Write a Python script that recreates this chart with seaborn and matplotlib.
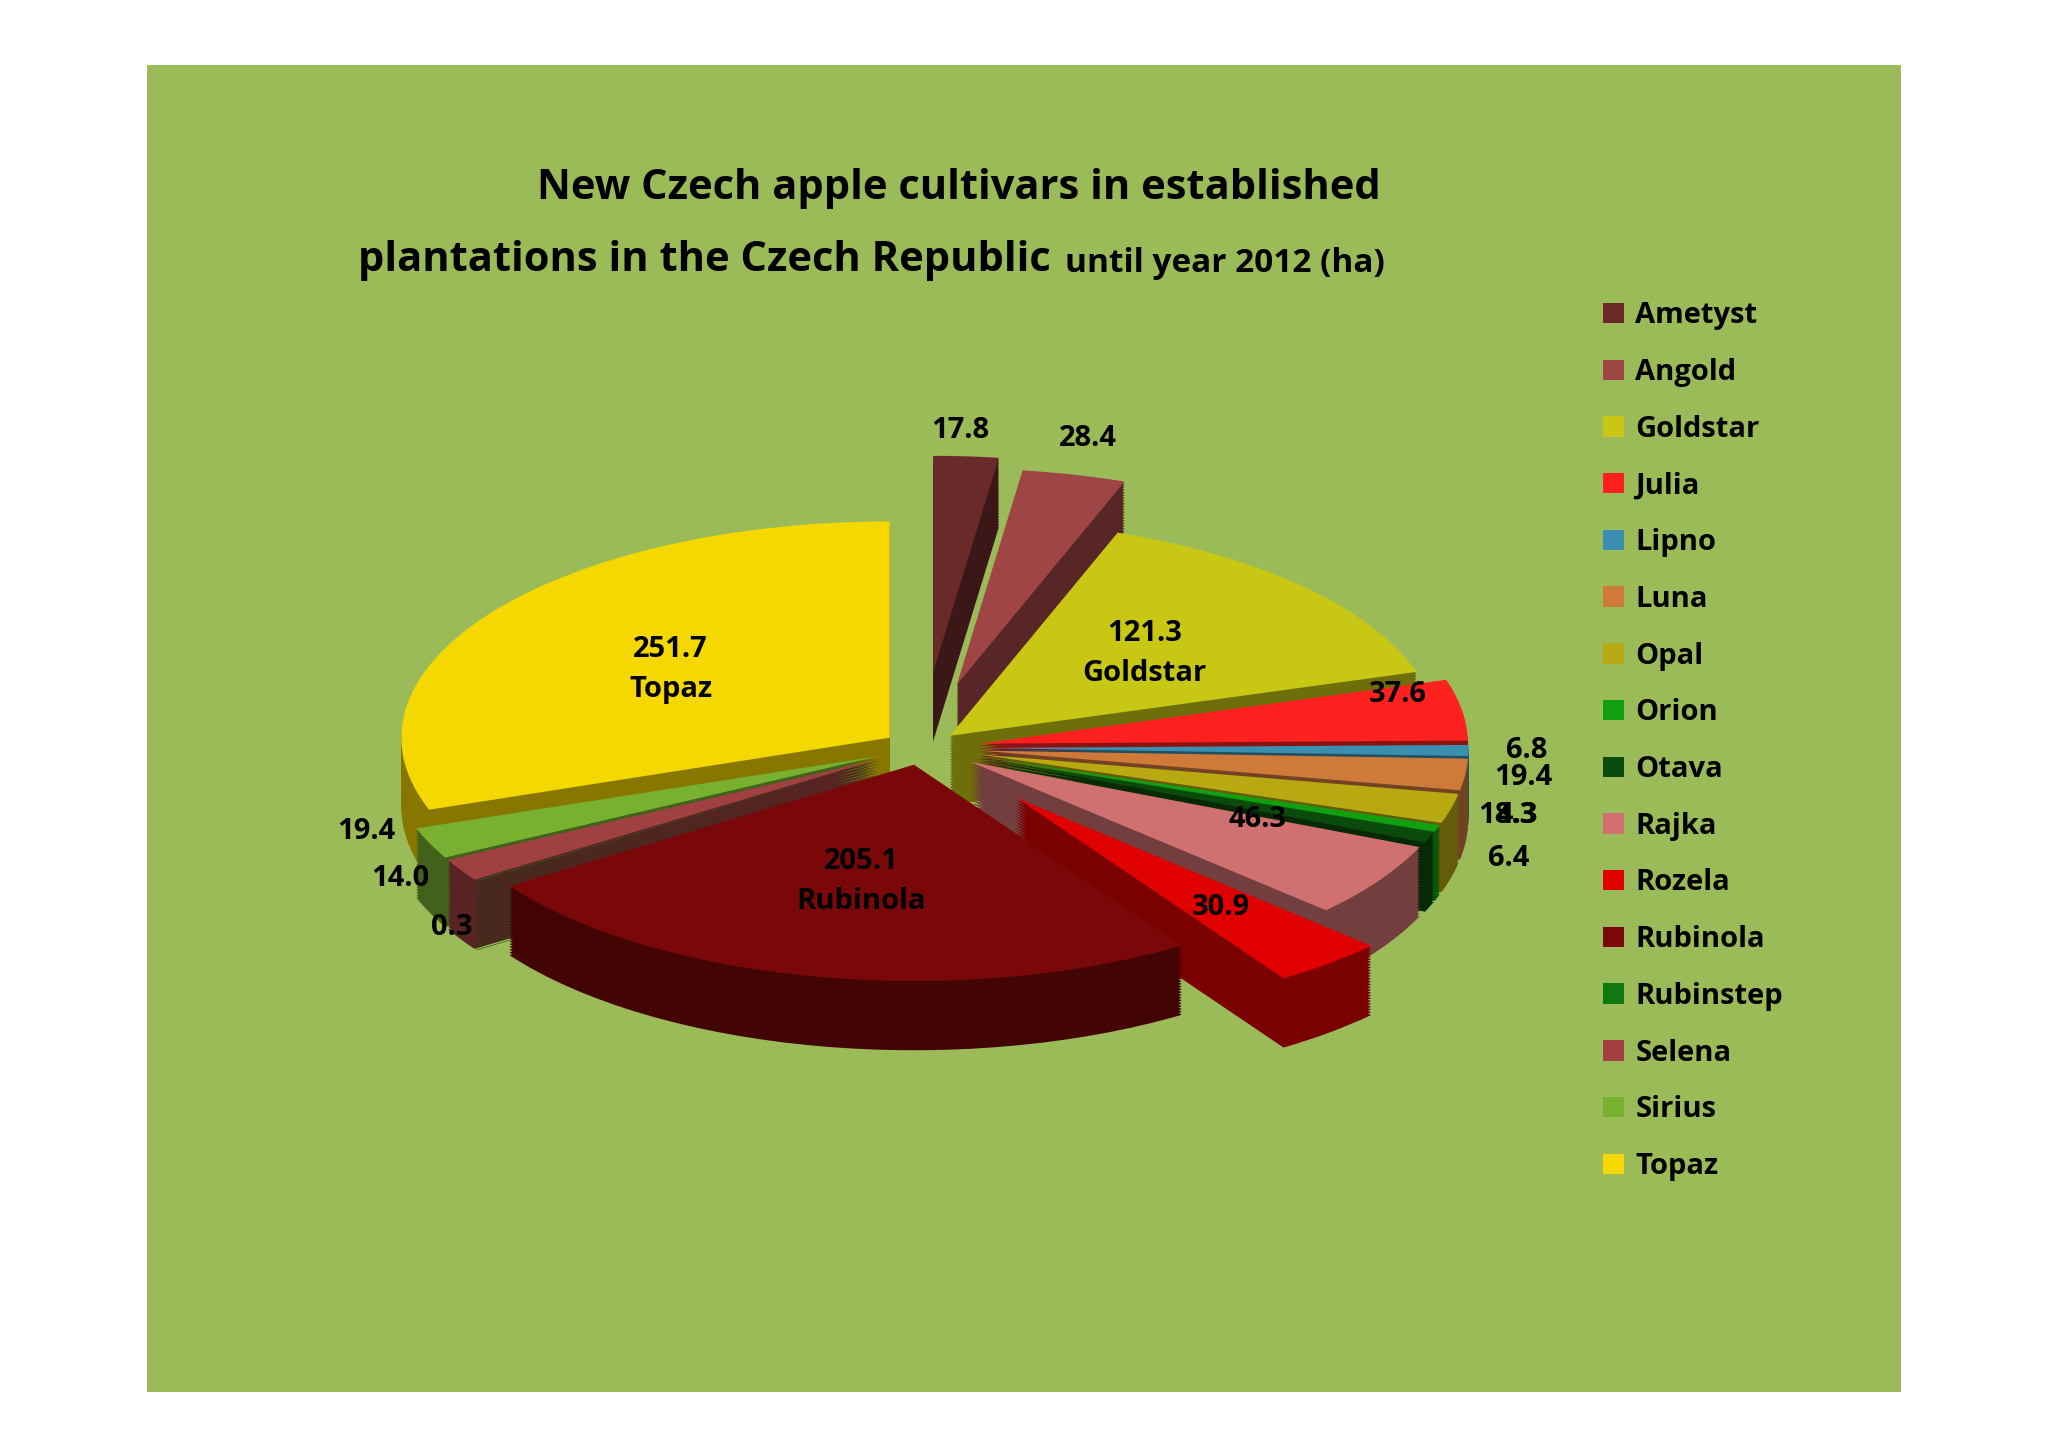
import numpy as np
import matplotlib
matplotlib.use('Agg')
import matplotlib.pyplot as plt
import matplotlib.colors as mcolors
from matplotlib.patches import Rectangle, Patch
import seaborn as sns

sns.set_style('white')
plt.rcParams['font.family'] = ['Open Sans', 'DejaVu Sans']
plt.rcParams['text.color'] = 'black'

cultivars = ['Ametyst', 'Angold', 'Goldstar', 'Julia', 'Lipno', 'Luna', 'Opal', 'Orion',
             'Otava', 'Rajka', 'Rozela', 'Rubinola', 'Rubinstep', 'Selena', 'Sirius', 'Topaz']
areas = [17.8, 28.4, 121.3, 37.6, 6.8, 19.4, 18.3, 4.3, 6.4, 46.3, 30.9, 205.1, 0.3, 14.0, 19.4, 251.7]
colors = ['#6b2a2a', '#a04545', '#c8c814', '#ff2020', '#3a8fb0', '#d07a3a', '#b8a812', '#10a010',
          '#0a4a0a', '#d07070', '#e00000', '#7a0808', '#107810', '#a04040', '#78b030', '#f5d800']
explode = [0.35, 0.3, 0.08, 0.12, 0.12, 0.12, 0.12, 0.12, 0.12, 0.12, 0.3, 0.08, 0.1, 0.1, 0.1, 0.08]
inside = {'Goldstar', 'Topaz', 'Rubinola'}
# small nudges for crowded outside labels (x, y in data units)
nudge = {'Rajka': (-0.35, 0.35), 'Rozela': (-0.3, 0.35), 'Orion': (0.05, 0.1), 'Otava': (0.05, -0.05),
         'Selena': (-0.02, 0.02), 'Rubinstep': (0.05, -0.15), 'Sirius': (-0.02, 0.1),
         'Julia': (-0.25, 0.05), 'Ametyst': (-0.02, 0.0), 'Angold': (0.0, 0.05)}

fig = plt.figure(figsize=(20.48, 14.48), dpi=100)
fig.patches.append(Rectangle((0.072, 0.039), 0.856, 0.916, transform=fig.transFigure,
                             facecolor='#9bbb59', edgecolor='none', zorder=-10))
ax = fig.add_axes([0.14, 0.14, 0.62, 0.62])
ax.set_facecolor('none')

depth = 0.32
for d in np.linspace(depth, 0.01, 25):
    dark = [tuple(np.array(mcolors.to_rgb(c)) * 0.55) for c in colors]
    ax.pie(areas, colors=dark, explode=explode, startangle=90, counterclock=False,
           center=(0, -d), radius=1, wedgeprops=dict(linewidth=0))
wedges, _ = ax.pie(areas, colors=colors, explode=explode, startangle=90, counterclock=False,
                   radius=1, wedgeprops=dict(linewidth=0))
ax.set_aspect('auto')
ax.set_xlim(-1.3, 1.3)
ax.set_ylim(-2.3, 1.85)

for w, name, val in zip(wedges, cultivars, areas):
    ang = np.deg2rad((w.theta1 + w.theta2) / 2)
    cx, cy = w.center
    if name in inside:
        r = 0.55
        txt = f'{val:.1f}\n{name}'
    else:
        r = 1.12
        txt = f'{val:.1f}'
    dx, dy = nudge.get(name, (0, 0))
    ax.text(cx + r * np.cos(ang) + dx, cy + r * np.sin(ang) + dy,
            txt, ha='center', va='center', fontsize=21, fontweight='bold', color='black',
            linespacing=1.5)

fig.text(0.468, 0.87, 'New Czech apple cultivars in established', ha='center', va='center',
         fontsize=30, fontweight='bold', color='black')
t1 = fig.text(0.175, 0.82, 'plantations in the Czech Republic', ha='left', va='center',
              fontsize=30, fontweight='bold', color='black')
fig.canvas.draw()
bb = t1.get_window_extent().transformed(fig.transFigure.inverted())
fig.text(bb.x1 + 0.007, 0.818, 'until year 2012 (ha)', ha='left', va='center',
         fontsize=24, fontweight='bold', color='black')

handles = [Patch(facecolor=c, edgecolor='none', label=n) for c, n in zip(colors, cultivars)]
fig.legend(handles=handles, loc='upper left', bbox_to_anchor=(0.77, 0.81), frameon=False,
           prop=dict(size=21, weight='bold'), handlelength=0.7, handleheight=0.7,
           handletextpad=0.4, labelspacing=0.95)

fig.savefig('out.png', dpi=100, facecolor='white')
